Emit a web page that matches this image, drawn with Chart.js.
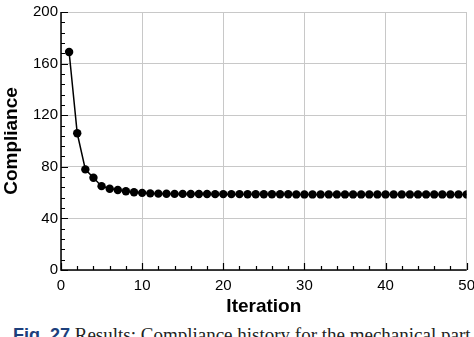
<!DOCTYPE html>
<html>
<head>
<meta charset="utf-8">
<script src="https://cdn.jsdelivr.net/npm/chart.js@4/dist/chart.umd.min.js"></script>
<style>
  html, body { margin: 0; padding: 0; background: #fff; }
  #wrap { position: relative; width: 474px; height: 337px; overflow: hidden; }
  #chart { position: absolute; left: 0; top: 0; }
  #caption {
    position: absolute; left: 13px; top: 324px; white-space: nowrap;
    font-family: "Liberation Serif", "Times New Roman", serif; font-size: 19px; color: #222;
  }
  #caption b { font-family: "Liberation Sans", Arial, sans-serif; font-size: 18px; color: #1d3f7c; }
</style>
</head>
<body>
<div id="wrap">
  <canvas id="chart" width="482" height="322"></canvas>
  <div id="caption"><b>Fig. 27</b> Results: Compliance history for the mechanical part</div>
</div>
<script>
// compliance value at each optimisation iteration
const iterations = [];
for (let i = 1; i <= 50; i++) iterations.push(i);
const compliance = [
  169, 106, 78, 71.5, 65, 63, 62, 61, 60.3, 59.8,
  59.4, 59.2, 59.1, 59.0, 59.0, 58.9, 58.9, 58.9, 58.8, 58.8,
  58.8, 58.8, 58.7, 58.7, 58.7, 58.7, 58.7, 58.7, 58.6, 58.6,
  58.6, 58.6, 58.6, 58.6, 58.6, 58.6, 58.6, 58.6, 58.6, 58.6,
  58.6, 58.6, 58.6, 58.6, 58.6, 58.6, 58.6, 58.6, 58.6, 58.6
];
const xTicks = [0, 10, 20, 30, 40, 50];
const yTicks = [0, 40, 80, 120, 160, 200];

const tickFont = { family: "Liberation Sans, Arial, sans-serif", size: 15 };
const titleFont = { family: "Liberation Sans, Arial, sans-serif", size: 19, weight: "bold" };

// black axes with ticks pointing into the plot, major + minor
const innerTicks = {
  id: "innerTicks",
  afterDraw(chart) {
    const c = chart.ctx, a = chart.chartArea;
    const xs = chart.scales.x, ys = chart.scales.y;
    c.save();
    c.strokeStyle = "#000";
    c.lineWidth = 1.5;
    c.beginPath();
    c.moveTo(a.left, a.top);
    c.lineTo(a.left, a.bottom);
    c.lineTo(a.right, a.bottom);
    c.stroke();
    c.lineWidth = 1.2;
    c.beginPath();
    for (let v = 0; v <= 50; v += 2) {
      const px = Math.round(xs.getPixelForValue(v)) + 0.5;
      const len = v % 10 === 0 ? 7 : 4;
      c.moveTo(px, a.bottom);
      c.lineTo(px, a.bottom - len);
    }
    for (let v = 0; v <= 200; v += 8) {
      const py = Math.round(ys.getPixelForValue(v)) + 0.5;
      const len = v % 40 === 0 ? 7 : 4;
      c.moveTo(a.left, py);
      c.lineTo(a.left + len, py);
    }
    c.stroke();
    c.restore();
  }
};

new Chart(document.getElementById("chart"), {
  type: "line",
  data: {
    labels: iterations,
    datasets: [{
      data: compliance.map((y, i) => ({ x: iterations[i], y: y })),
      borderColor: "#000",
      backgroundColor: "#000",
      borderWidth: 1.5,
      pointRadius: 4.2,
      pointBorderWidth: 0,
      tension: 0
    }]
  },
  options: {
    responsive: false,
    animation: false,
    layout: { padding: { top: 6, right: 0, left: 0, bottom: 0 } },
    plugins: { legend: { display: false }, tooltip: { enabled: false } },
    scales: {
      x: {
        type: "linear", min: 0, max: 50,
        afterBuildTicks: (s) => { s.ticks = xTicks.map(v => ({ value: v })); },
        afterFit: (s) => { s.height = 52; },
        grid: { color: "#c8c8c8", lineWidth: 1, drawTicks: false },
        border: { display: false },
        ticks: { color: "#000", font: tickFont, padding: 7, maxRotation: 0 },
        title: { display: true, text: "Iteration", color: "#000", font: titleFont, padding: { top: 2 } }
      },
      y: {
        min: 0, max: 200,
        afterBuildTicks: (s) => { s.ticks = yTicks.map(v => ({ value: v })); },
        afterFit: (s) => { s.width = 61; },
        grid: { color: "#c8c8c8", lineWidth: 1, drawTicks: false },
        border: { display: false },
        ticks: { color: "#000", font: tickFont, padding: 3 },
        title: { display: true, text: "Compliance", color: "#000", font: titleFont, padding: 0 }
      }
    }
  },
  plugins: [innerTicks]
});
</script>
</body>
</html>
